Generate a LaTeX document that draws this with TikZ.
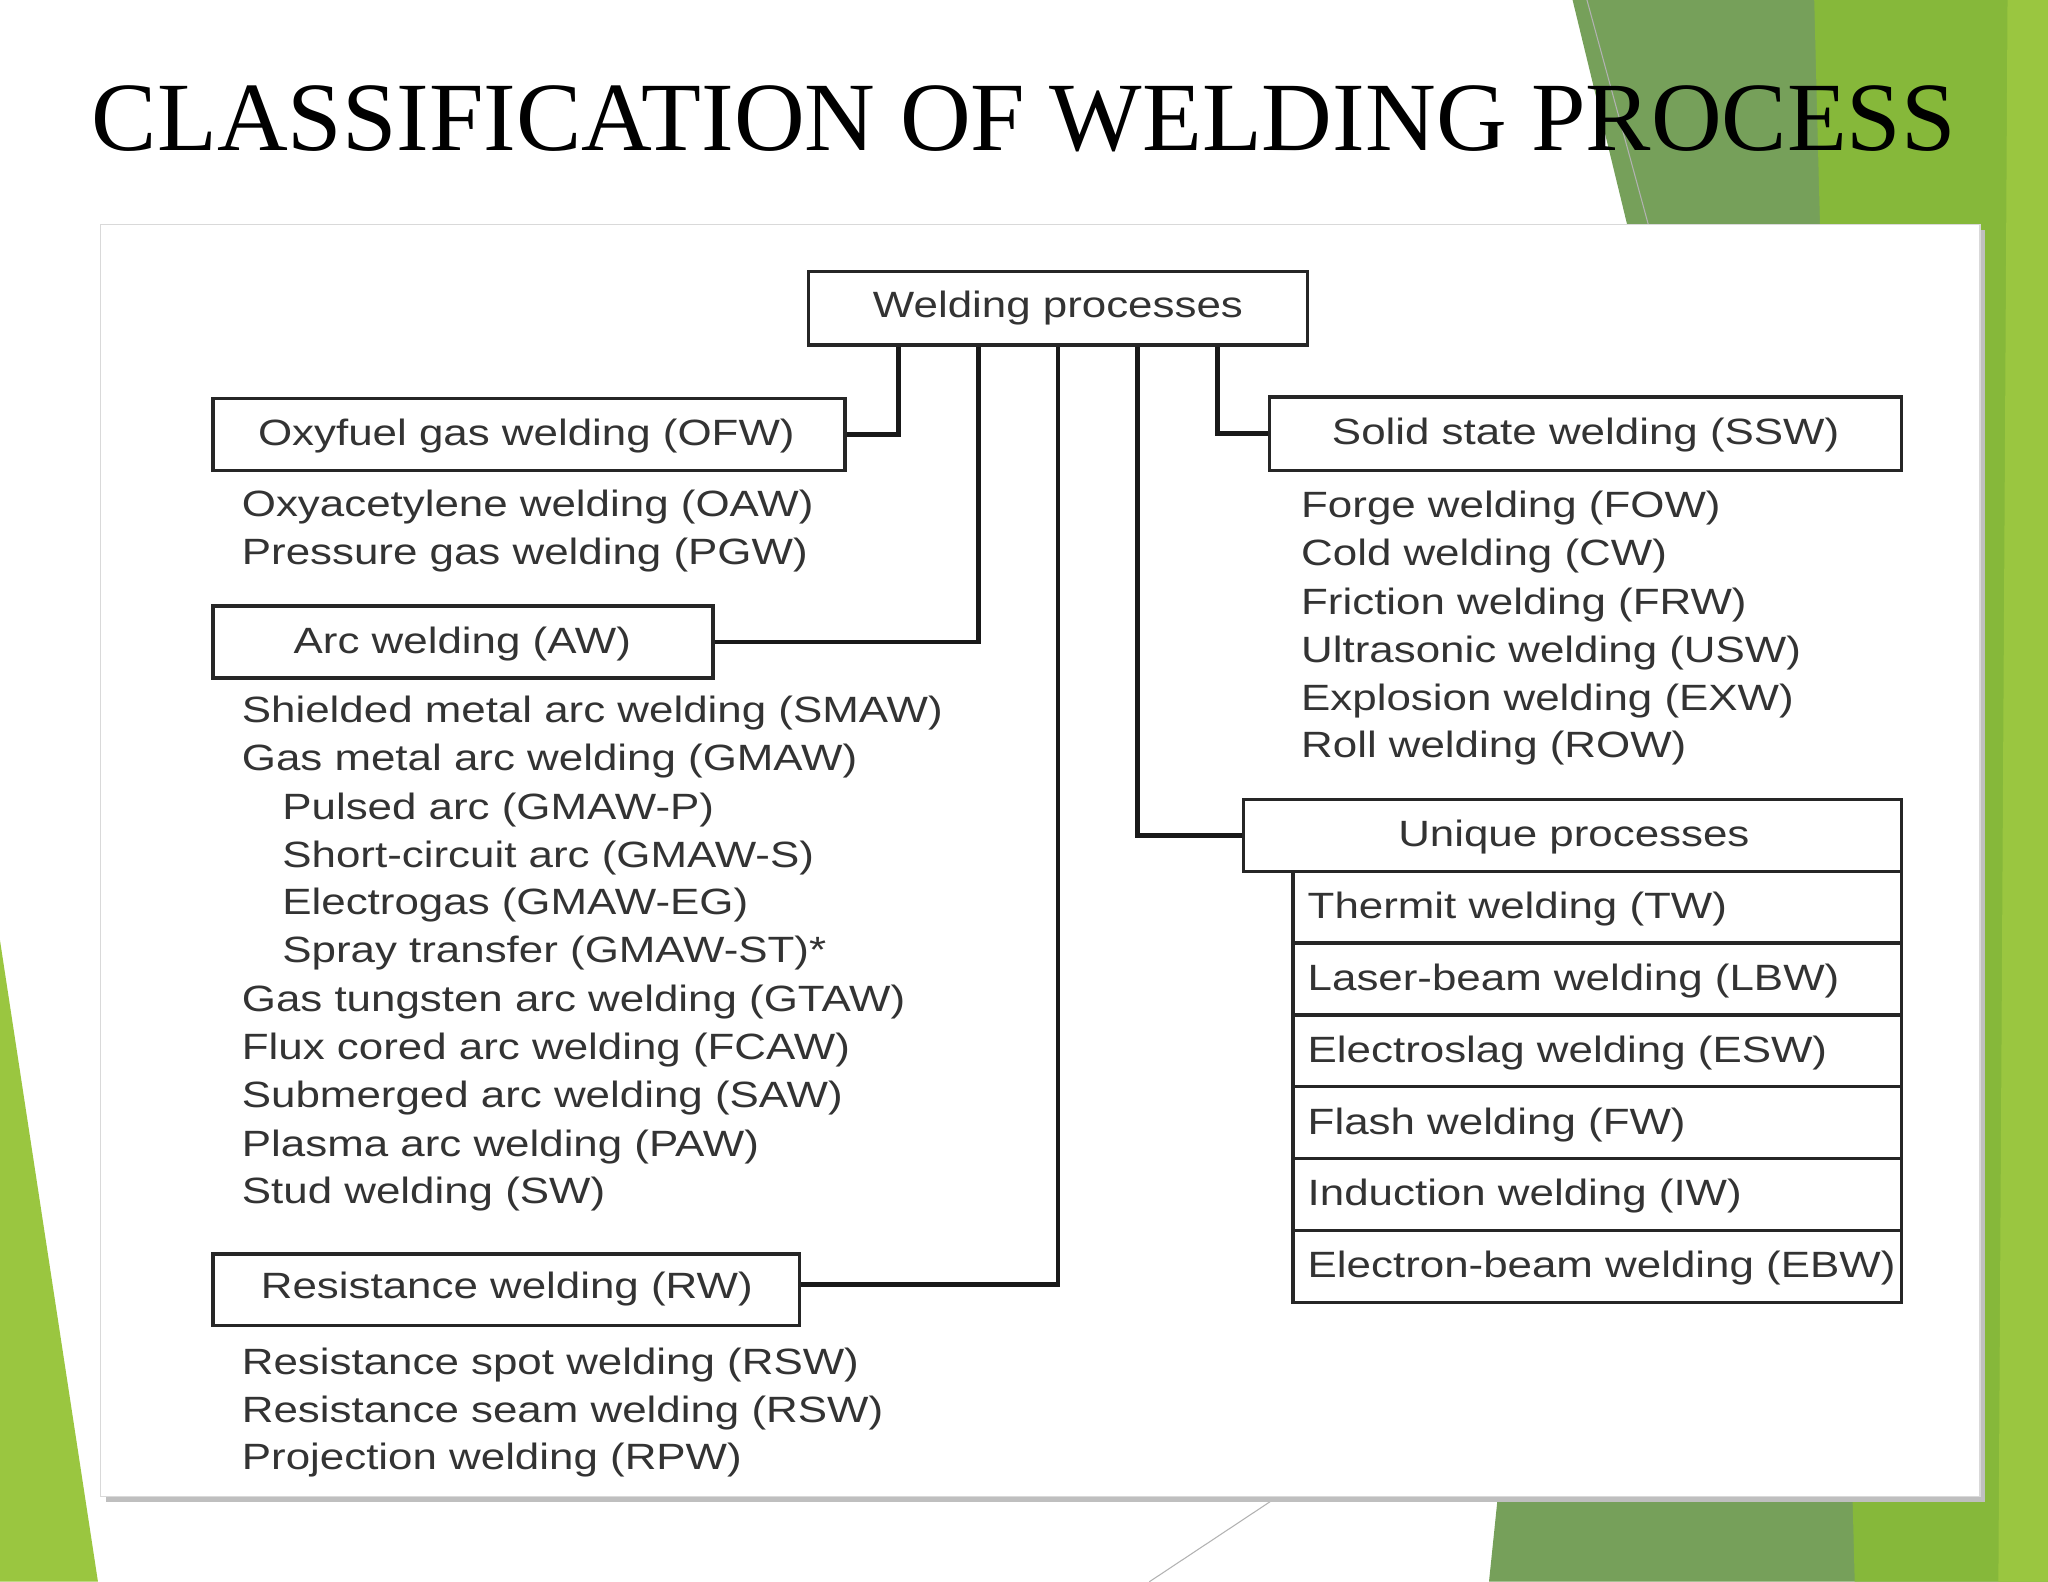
\documentclass[tikz,border=0pt]{standalone}
\usepackage{fontspec}
\setmainfont{Liberation Sans}[FakeStretch=1.2]
\newfontfamily\titlefont{Liberation Serif}
\definecolor{gdark}{HTML}{76A05A}
\definecolor{gmid}{HTML}{86B83A}
\definecolor{gbright}{HTML}{9AC640}
\begin{document}
\begin{tikzpicture}[x=1pt,y=-1pt,
  box/.style={draw=black!85,line width=2.6pt,inner sep=0pt},
  conn/.style={draw=black!90,line width=3.5pt},
  lab/.style={font=\fontsize{28}{30}\selectfont,text=black!80,inner sep=0pt},
  it/.style={lab,anchor=west}]
\useasboundingbox (0,0) rectangle (1568,1211);
\fill[white] (0,0) rectangle (1568,1211);
% green decoration
\fill[gdark] (1204,0) -- (1568,0) -- (1568,1211) -- (1140,1211) -- (1247,177) -- cycle;
\fill[gmid] (1389,0) -- (1568,0) -- (1568,1211) -- (1420,1211) -- cycle;
\fill[gbright] (1537,0) -- (1568,0) -- (1568,1211) -- (1530,1211) -- cycle;
\fill[gbright] (0,720) -- (75,1211) -- (0,1211) -- cycle;
\draw[gray!60,line width=0.8pt] (1215,0) -- (1262,172);
\draw[gray!60,line width=0.8pt] (880,1211) -- (975,1148);
% title
\node[font=\titlefont\fontsize{75}{80}\selectfont,anchor=base] (title) at (784,115) {CLASSIFICATION OF WELDING PROCESS};
% panel
\fill[black!25] (81,176) rectangle (1520,1150);
\draw[fill=white,draw=black!15,line width=1pt] (77,172) rectangle (1516,1146);
% boxes
\node[box,minimum width=382pt,minimum height=56pt] (wp) at (810,236) {};
\node[lab] at (810,236) {Welding processes};
\node[box,minimum width=484pt,minimum height=55pt] (ofw) at (405,332.5) {};
\node[lab] at (403,334) {Oxyfuel gas welding (OFW)};
\node[box,minimum width=383pt,minimum height=55pt] (aw) at (354.5,491.5) {};
\node[lab] at (354,493) {Arc welding (AW)};
\node[box,minimum width=449pt,minimum height=55pt] (rw) at (387.5,987.5) {};
\node[lab] at (388,987) {Resistance welding (RW)};
\node[box,minimum width=484pt,minimum height=56pt] (ssw) at (1214,332) {};
\node[lab] at (1214,333) {Solid state welding (SSW)};
\node[box,minimum width=504pt,minimum height=55pt] (up) at (1204,639.5) {};
\node[lab] at (1205,641) {Unique processes};
\foreach \t [count=\i] in {Thermit welding (TW),Laser-beam welding (LBW),Electroslag welding (ESW),Flash welding (FW),Induction welding (IW),Electron-beam welding (EBW)}{
  \node[box,minimum width=466pt,minimum height=55pt] (u\i) at (1223,639.5+55*\i) {};
  \node[it] at (1001,641+55*\i) {\t};
}
% connectors
\draw[conn] ([xshift=-122pt]wp.south) |- (ofw.east);
\draw[conn] ([xshift=-61pt]wp.south) |- (aw.east);
\draw[conn] (wp.south) |- ([yshift=4pt]rw.east);
\draw[conn] ([xshift=61pt]wp.south) |- (up.west);
\draw[conn] ([xshift=122pt]wp.south) |- (ssw.west);
% lists
\node[it] at (185,388) {Oxyacetylene welding (OAW)};
\node[it] at (185,425) {Pressure gas welding (PGW)};
\node[it] at (185,546) {Shielded metal arc welding (SMAW)};
\node[it] at (185,583) {Gas metal arc welding (GMAW)};
\node[it] at (216,620) {Pulsed arc (GMAW-P)};
\node[it] at (216,657) {Short-circuit arc (GMAW-S)};
\node[it] at (216,693) {Electrogas (GMAW-EG)};
\node[it] at (216,730) {Spray transfer (GMAW-ST)*};
\node[it] at (185,767) {Gas tungsten arc welding (GTAW)};
\node[it] at (185,804) {Flux cored arc welding (FCAW)};
\node[it] at (185,841) {Submerged arc welding (SAW)};
\node[it] at (185,878) {Plasma arc welding (PAW)};
\node[it] at (185,914) {Stud welding (SW)};
\node[it] at (185,1045) {Resistance spot welding (RSW)};
\node[it] at (185,1082) {Resistance seam welding (RSW)};
\node[it] at (185,1118) {Projection welding (RPW)};
\node[it] at (996,389) {Forge welding (FOW)};
\node[it] at (996,426) {Cold welding (CW)};
\node[it] at (996,463) {Friction welding (FRW)};
\node[it] at (996,500) {Ultrasonic welding (USW)};
\node[it] at (996,537) {Explosion welding (EXW)};
\node[it] at (996,573) {Roll welding (ROW)};
\end{tikzpicture}
\end{document}
